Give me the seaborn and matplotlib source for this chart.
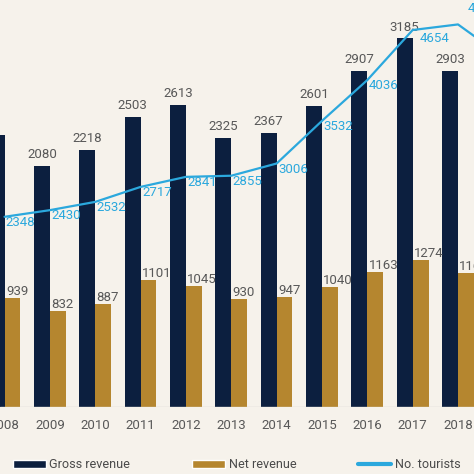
import numpy as np
import pandas as pd
import matplotlib
matplotlib.use("Agg")
import matplotlib.pyplot as plt
from matplotlib.patches import Patch
from matplotlib.lines import Line2D
import seaborn as sns

# data
years = [2008, 2009, 2010, 2011, 2012, 2013, 2014, 2015, 2016, 2017, 2018]
gross = [2347, 2080, 2218, 2503, 2613, 2325, 2367, 2601, 2907, 3185, 2903]
net = [939, 832, 887, 1101, 1045, 930, 947, 1040, 1163, 1274, 1160]
tour_years = [2008, 2009, 2010, 2011, 2012, 2013, 2014, 2015, 2016, 2017, 2018, 2019]
tourists = [2348, 2430, 2532, 2717, 2841, 2855, 3006, 3532, 4036, 4654, 4723, 4320]
tour_labels = ["2348", "2430", "2532", "2717", "2841", "2855", "3006", "3532",
               "4036", "4654", "4723", None]

navy = "#0c1f3f"
gold = "#b5862f"
blue = "#2ba8dd"
bg = "#f6f2eb"
grey = "#585858"

sns.set_theme(style="white")
plt.rcParams["font.family"] = ["Roboto", "DejaVu Sans"]

df = pd.DataFrame({
    "year": years * 2,
    "value": gross + net,
    "measure": ["Gross revenue"] * len(years) + ["Net revenue"] * len(years),
})

fig = plt.figure(figsize=(4.74, 4.74), dpi=100, facecolor=bg)
ax = fig.add_axes([0, 0.1414, 1, 0.8544])
ax.set_facecolor(bg)

sns.barplot(data=df, x="year", y="value", hue="measure", palette=[navy, gold],
            width=0.7, native_scale=True, legend=False, ax=ax, saturation=1,
            linewidth=0)

ax2 = ax.twinx()
sns.lineplot(x=tour_years, y=tourists, color=blue, linewidth=1.6, ax=ax2, legend=False)

ax.set_ylim(0, 3500)
ax2.set_ylim(0, 5000)
ax.set_xlim(2007.9, 2018.353)
ax2.set_xlim(2007.9, 2018.353)

# bar labels
fs = 9.5
for yr, g, n in zip(years, gross, net):
    ax.annotate(str(g), (yr - 0.175, g), xytext=(0, 3.5), textcoords="offset points",
                ha="center", va="bottom", fontsize=fs, color=grey)
    ax.annotate(str(n), (yr, n), xytext=(1, 0), textcoords="offset points",
                ha="left", va="bottom", fontsize=fs, color=grey)

# tourist labels
for yr, t, lab in zip(tour_years, tourists, tour_labels):
    if lab is None:
        continue
    off = (1, -4)
    va = "center"
    if yr == 2017:
        off = (5, -6)
    if yr == 2018:
        off = (7, 7)
        va = "bottom"
    ax2.annotate(lab, (yr, t), xytext=off, textcoords="offset points",
                 ha="left", va=va, fontsize=fs, color=blue)

ax.axhline(0, color="#d6d3cd", linewidth=1)
ax.set_xticks(years)
ax.set_xticklabels([str(y) for y in years], color=grey, fontsize=fs)
ax.tick_params(axis="x", length=0, pad=8.5)
ax.set_yticks([])
ax2.set_yticks([])
ax.set_xlabel("")
ax.set_ylabel("")
ax2.set_ylabel("")
for a in (ax, ax2):
    for s in a.spines.values():
        s.set_visible(False)

handles = [Patch(facecolor=navy), Patch(facecolor=gold), Line2D([0], [0], color=blue, lw=3)]
fig.legend(handles, ["Gross revenue", "Net revenue", "No. tourists"],
           loc="center left", bbox_to_anchor=(0.027, 0.019), ncol=3, frameon=False,
           handlelength=2.6, handleheight=0.7, handletextpad=0.3, columnspacing=4.9,
           borderpad=0, borderaxespad=0, fontsize=9.1, labelcolor="#4a4a4a")

fig.savefig("out.png", dpi=100, facecolor=bg)
